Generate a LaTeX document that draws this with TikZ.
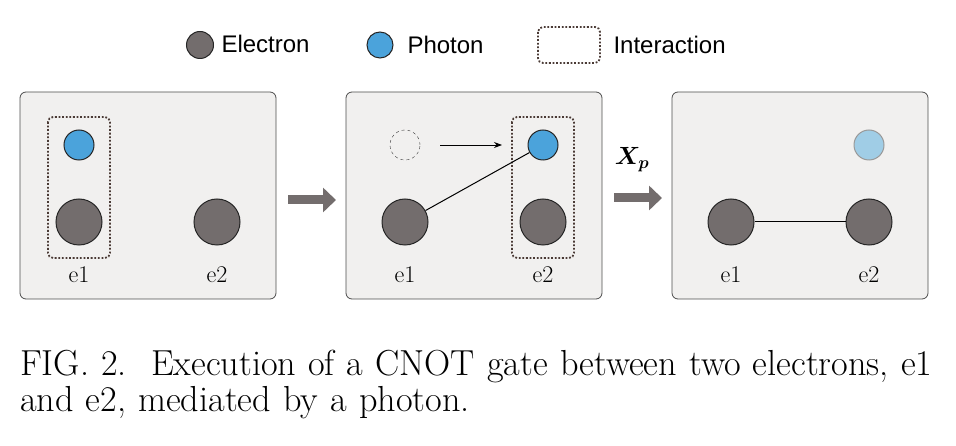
\documentclass[tikz,border=0pt]{standalone}
\usepackage{amsmath}
\usepackage{fontspec}
\newfontfamily\legfont{Liberation Sans}
\usetikzlibrary{arrows.meta}
\definecolor{elec}{HTML}{736D6D}
\definecolor{phot}{HTML}{4BA3DB}
\definecolor{lphot}{HTML}{A0CDE6}
\definecolor{panel}{HTML}{F1F0EF}
\definecolor{box}{HTML}{4A3A35}
\begin{document}
\begin{tikzpicture}[x=1pt,y=-1pt,
 electron/.style={circle,draw=black!85,line width=1pt,fill=elec,minimum size=46pt,inner sep=0},
 photon/.style={circle,draw=black!85,line width=1pt,fill=phot,minimum size=30pt,inner sep=0},
 panel/.style={draw=black!70,line width=0.8pt,fill=panel,rounded corners=6pt},
 inter/.style={draw=box,line width=1.8pt,dash pattern=on 1.8pt off 1.8pt,rounded corners=5pt},
 lab/.style={font=\fontsize{24}{28}\selectfont},
 leg/.style={font=\legfont\fontsize{24}{28}\selectfont,anchor=west},
 bigarrow/.style={-{Triangle[length=13pt,width=24pt]},line width=9pt,draw=elec}]
\useasboundingbox (0,0) rectangle (956,446);
% legend
\node[electron,minimum size=27pt] (le) at (200,45) {};
\node[leg] (lt1) at (218,44) {Electron};
\node[photon,minimum size=26pt] (lp) at (380,45) {};
\node[leg] (lt2) at (404,45) {Photon};
\draw[inter] (538,27) rectangle (600,63);
\node[leg] (lt3) at (610,45) {Interaction};
% panels
\draw[panel] (20,92) rectangle (276,299);
\draw[panel] (346,92) rectangle (602,299);
\draw[panel] (672,92) rectangle (928,299);
% panel 1
\draw[inter] (48,117) rectangle (110,258);
\node[photon] (p1) at (79,145) {};
\node[electron] (a1) at (79,222) {};
\node[electron] (b1) at (217,222) {};
\node[lab] (la1) at (79,275) {e1};
\node[lab] (lb1) at (217,275) {e2};
% arrow
\coordinate (s1) at (288,200); \coordinate (t1) at (336,200);
\draw[bigarrow] (s1) -- (t1);
% panel 2
\draw[inter] (512,117) rectangle (574,258);
\node[circle,draw=black!80,dashed,minimum size=30pt,inner sep=0] (g2) at (405,145) {};
\node[photon] (p2) at (543,145) {};
\node[electron] (a2) at (405,222) {};
\node[electron] (b2) at (543,222) {};
\draw[line width=1pt] (a2) -- (p2);
\coordinate (s2) at (440,145); \coordinate (t2) at (502,145);
\draw[-{Stealth[length=8pt]},line width=0.9pt] (s2) -- (t2);
\node[lab] (la2) at (405,275) {e1};
\node[lab] (lb2) at (543,275) {e2};
% arrow 2
\coordinate (s3) at (614,198); \coordinate (t3) at (662,198);
\draw[bigarrow] (s3) -- (t3);
\node[font=\fontsize{26}{28}\selectfont] (xp) at (632,160) {$\boldsymbol{X_p}$};
% panel 3
\node[photon,fill=lphot,draw=black!40] (p3) at (869,145) {};
\node[electron] (a3) at (731,222) {};
\node[electron] (b3) at (869,222) {};
\draw[line width=1pt] (a3) -- (b3);
\node[lab] (la3) at (731,275) {e1};
\node[lab] (lb3) at (869,275) {e2};
% caption
\node[anchor=north west,font=\fontsize{36.2}{36}\selectfont,align=left,text width=950pt,inner sep=0] (cap) at (20,350)
 {FIG. 2.\ \ Execution of a CNOT gate between two electrons, e1\\and e2, mediated by a photon.};
\end{tikzpicture}
\end{document}
